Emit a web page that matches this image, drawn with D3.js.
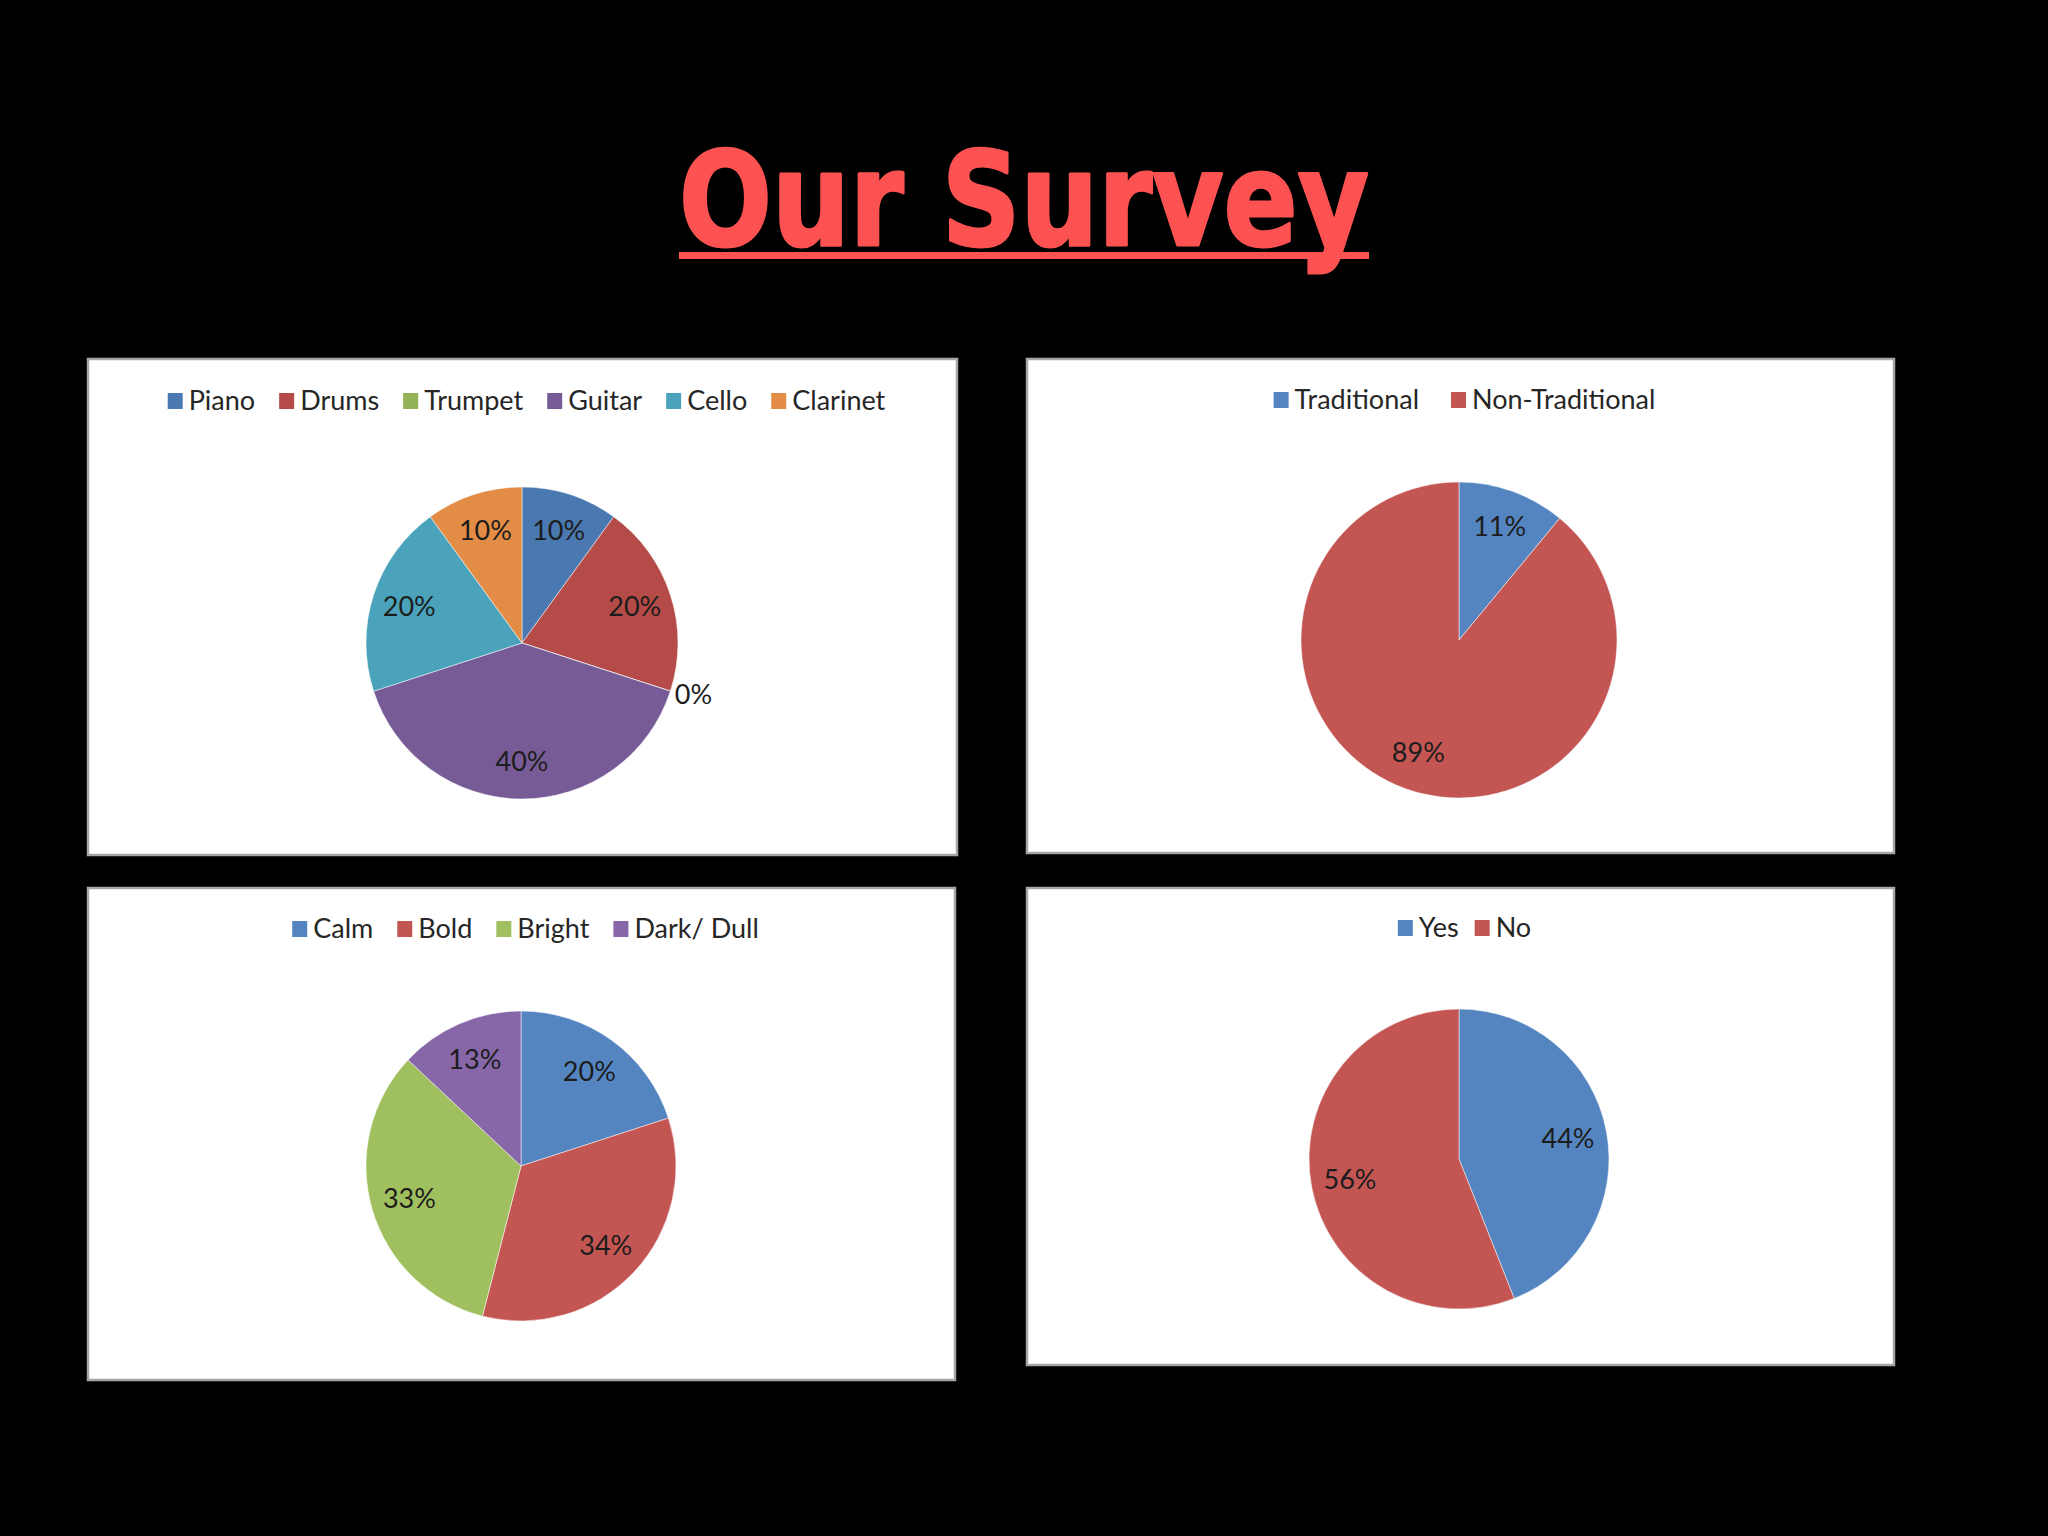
<!DOCTYPE html>
<html>
<head>
<meta charset="utf-8">
<script src="https://cdn.jsdelivr.net/npm/d3@7"></script>
<style>
  html, body { margin: 0; padding: 0; background: #000; }
  svg { display: block; }
</style>
</head>
<body>
<div id="slide"></div>
<script>
// chart data
var instruments = ["Piano", "Drums", "Trumpet", "Guitar", "Cello", "Clarinet"];
var instrumentPct = [10, 20, 0, 40, 20, 10];
var instrumentColors = ["#4a78b0", "#b54b48", "#93b256", "#775b97", "#4aa3ba", "#e28c45"];

var styles = ["Traditional", "Non-Traditional"];
var stylePct = [11, 89];

var moods = ["Calm", "Bold", "Bright", "Dark/ Dull"];
var moodPct = [20, 34, 33, 13];

var answers = ["Yes", "No"];
var answerPct = [44, 56];

var officeColors = ["#5585c1", "#c35653", "#a0bf5f", "#8767a8"];

var svgWidth = 2048;
var svgHeight = 1536;

var svg = d3.select("#slide")
  .append("svg")
  .attr("width", svgWidth)
  .attr("height", svgHeight);

svg.append("rect")
  .attr("width", svgWidth)
  .attr("height", svgHeight)
  .attr("fill", "#000");

// Title
var titleColor = "#fd5252";
svg.append("text")
  .attr("x", 679)
  .attr("y", 245)
  .attr("textLength", 690)
  .attr("lengthAdjust", "spacingAndGlyphs")
  .style("font-family", "'DejaVu Sans', sans-serif")
  .style("font-weight", "bold")
  .style("font-size", "130px")
  .attr("fill", titleColor)
  .attr("stroke", titleColor)
  .attr("stroke-width", 3)
  .attr("stroke-linejoin", "round")
  .text("Our  Survey");

svg.append("rect")
  .attr("x", 679)
  .attr("y", 252)
  .attr("width", 690)
  .attr("height", 7)
  .attr("fill", titleColor);

// one panel per survey question
var panels = [
  { x: 88, y: 359, w: 869, h: 496, cx: 522, cy: 643, r: 156, legendY: 401, gap: 24, lr: 0.76,
    labels: instruments, values: instrumentPct, colors: instrumentColors },
  { x: 1027, y: 359, w: 867, h: 494, cx: 1459, cy: 640, r: 158, legendY: 400, gap: 32, lr: 0.76,
    labels: styles, values: stylePct, colors: officeColors },
  { x: 88, y: 888, w: 867, h: 492, cx: 521, cy: 1166, r: 155, legendY: 929, gap: 24, lr: 0.75,
    labels: moods, values: moodPct, colors: officeColors },
  { x: 1027, y: 888, w: 867, h: 477, cx: 1459, cy: 1159, r: 150, legendY: 928, gap: 16, lr: 0.74,
    labels: answers, values: answerPct, colors: officeColors }
];

var labelFont = "Lato, 'Noto Sans', sans-serif";
var fontSize = 27;

panels.forEach(function(p) {
  var g = svg.append("g");

  g.append("rect")
    .attr("x", p.x)
    .attr("y", p.y)
    .attr("width", p.w)
    .attr("height", p.h)
    .attr("fill", "#fff")
    .attr("stroke", "#a6a6a6")
    .attr("stroke-width", 2.5);

  var items = p.labels.map(function(l, i) {
    return { label: l, value: p.values[i], color: p.colors[i] };
  });

  // pie
  var pie = d3.pie().sort(null).value(d => d.value);
  var arc = d3.arc().innerRadius(0).outerRadius(p.r);
  var labelArc = d3.arc().innerRadius(p.r * p.lr).outerRadius(p.r * p.lr);
  var arcs = pie(items);

  var pieGroup = g.append("g")
    .attr("transform", `translate(${p.cx}, ${p.cy})`);

  pieGroup.selectAll("path")
    .data(arcs)
    .enter()
    .append("path")
    .attr("d", arc)
    .attr("fill", d => d.data.color)
    .attr("stroke", "#fff")
    .attr("stroke-opacity", 0.5)
    .attr("stroke-width", 1);

  pieGroup.selectAll("text")
    .data(arcs)
    .enter()
    .append("text")
    .each(function(d) {
      var t = d3.select(this);
      if (d.data.value === 0) {
        // empty slice: label sits just outside the edge
        var a = d.startAngle;
        t.attr("x", Math.sin(a) * p.r * 1.03)
          .attr("y", -Math.cos(a) * p.r * 1.03 + 2)
          .attr("text-anchor", "start");
      } else {
        var c = labelArc.centroid(d);
        t.attr("x", c[0]).attr("y", c[1]).attr("text-anchor", "middle");
      }
    })
    .attr("dy", "0.35em")
    .style("font-family", labelFont)
    .style("font-size", fontSize + "px")
    .attr("fill", "#1c1c1c")
    .text(d => d.data.value + "%");

  // legend, laid out left to right and centred on the panel
  var legend = g.append("g");
  var xPos = 0;
  items.forEach(function(d, i) {
    var item = legend.append("g").attr("transform", `translate(${xPos}, 0)`);
    item.append("rect")
      .attr("x", 0)
      .attr("y", -8)
      .attr("width", 15)
      .attr("height", 16)
      .attr("fill", d.color);
    var txt = item.append("text")
      .attr("x", 21)
      .attr("y", 0)
      .attr("dy", "0.35em")
      .style("font-family", labelFont)
      .style("font-size", fontSize + "px")
      .attr("fill", "#262626")
      .text(d.label);
    xPos += 21 + txt.node().getComputedTextLength() + p.gap;
  });
  var legendWidth = xPos - p.gap;
  legend.attr("transform", `translate(${p.x + (p.w - legendWidth) / 2 + 4}, ${p.legendY})`);
});
</script>
</body>
</html>
